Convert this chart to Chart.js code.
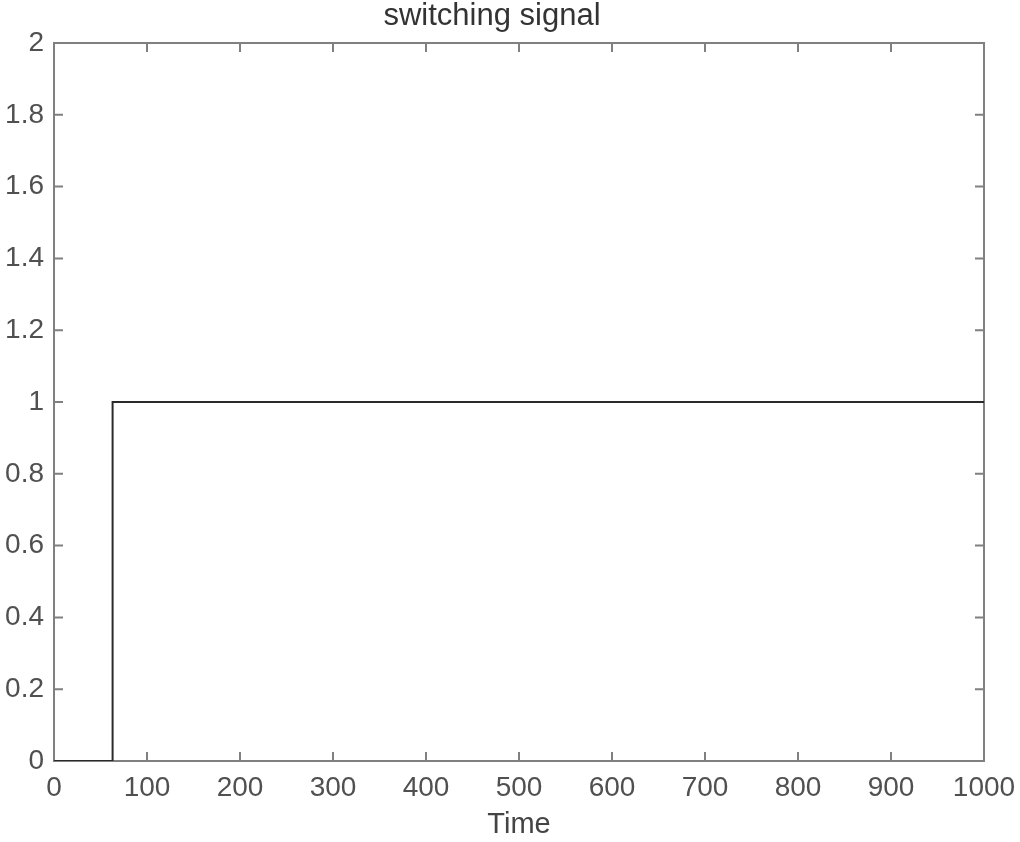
<!DOCTYPE html>
<html lang="en">
<head>
<meta charset="UTF-8">
<title>switching signal</title>
<script src="https://cdn.jsdelivr.net/npm/chart.js"></script>
<style>
  html, body { margin: 0; padding: 0; background: #fff; }
  #wrap { width: 1020px; height: 842px; }
</style>
</head>
<body>
<div id="wrap"><canvas id="chart" width="1020" height="842"></canvas></div>
<script>
// step signal: 0 until t=63, then 1
const timeValues = [0, 63, 63, 1000];
const signalValues = [0, 0, 1, 1];
const xTicks = [0, 100, 200, 300, 400, 500, 600, 700, 800, 900, 1000];
const yTicks = [0, 0.2, 0.4, 0.6, 0.8, 1, 1.2, 1.4, 1.6, 1.8, 2];

const axisColor = '#808080';
const textColor = '#505050';
const fontFamily = '"Liberation Sans", Arial, Helvetica, sans-serif';

// draws the box and inward ticks on all four sides, like matlab
const boxTicks = {
    id: 'boxTicks',
    beforeDatasetsDraw(chart) {
        const ctx = chart.ctx;
        const a = chart.chartArea;
        const xs = chart.scales.x, ys = chart.scales.y;
        const len = 9;
        ctx.save();
        ctx.strokeStyle = axisColor;
        ctx.lineWidth = 2;
        ctx.beginPath();
        xTicks.forEach(v => {
            const px = xs.getPixelForValue(v);
            ctx.moveTo(px, a.bottom); ctx.lineTo(px, a.bottom - len);
            ctx.moveTo(px, a.top); ctx.lineTo(px, a.top + len);
        });
        yTicks.forEach(v => {
            const py = ys.getPixelForValue(v);
            ctx.moveTo(a.left, py); ctx.lineTo(a.left + len, py);
            ctx.moveTo(a.right, py); ctx.lineTo(a.right - len, py);
        });
        ctx.stroke();
        ctx.strokeRect(a.left, a.top, a.right - a.left, a.bottom - a.top);
        ctx.restore();
    }
};

const data = timeValues.map((t, i) => ({ x: t, y: signalValues[i] }));

new Chart(document.getElementById('chart'), {
    type: 'scatter',
    data: {
        datasets: [{
            data: data,
            showLine: true,
            borderColor: '#2a2a2a',
            borderWidth: 2,
            pointRadius: 0,
            tension: 0,
            fill: false
        }]
    },
    options: {
        responsive: false,
        animation: false,
        layout: { padding: { left: 0, right: 36, top: 0, bottom: 0 } },
        plugins: {
            legend: { display: false },
            tooltip: { enabled: false },
            title: {
                display: true,
                text: 'switching signal',
                color: '#333333',
                font: { family: fontFamily, size: 31, weight: 'normal', lineHeight: 1.0 },
                padding: { top: 1, bottom: 11 }
            }
        },
        scales: {
            x: {
                type: 'linear',
                min: 0,
                max: 1000,
                afterBuildTicks: s => { s.ticks = xTicks.map(v => ({ value: v })); },
                afterFit: s => { s.height = 81; s.paddingLeft = 0; s.paddingRight = 0; },
                grid: { display: false, drawTicks: false },
                border: { display: false },
                ticks: {
                    color: textColor,
                    padding: 10,
                    maxRotation: 0,
                    font: { family: fontFamily, size: 28 },
                    callback: v => String(v)
                },
                title: {
                    display: true,
                    text: 'Time',
                    color: '#444444',
                    font: { family: fontFamily, size: 29 },
                    padding: { top: 0, bottom: 0 }
                }
            },
            y: {
                type: 'linear',
                min: 0,
                max: 2,
                afterBuildTicks: s => { s.ticks = yTicks.map(v => ({ value: v })); },
                afterFit: s => { s.width = 54; s.paddingTop = 0; s.paddingBottom = 0; },
                grid: { display: false, drawTicks: false },
                border: { display: false },
                ticks: {
                    color: textColor,
                    padding: 10,
                    font: { family: fontFamily, size: 28 },
                    callback: v => String(Math.round(v * 10) / 10)
                }
            }
        }
    },
    plugins: [boxTicks]
});
</script>
</body>
</html>
